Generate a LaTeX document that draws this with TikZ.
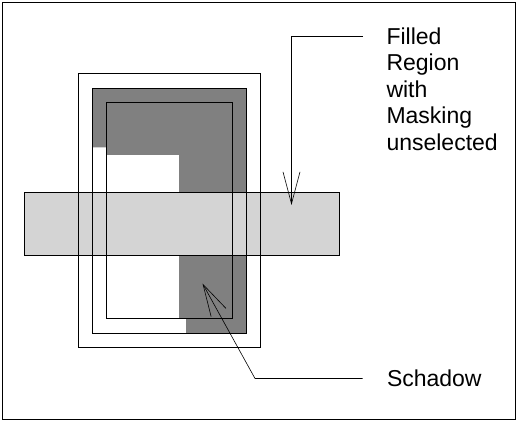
\documentclass[tikz,border=0pt]{standalone}
\usepackage{fontspec}
\setmainfont{Liberation Sans}
\usetikzlibrary{arrows.meta}
\tikzstyle{every node}=[inner sep=0pt, font=\fontsize{23}{26.5}\selectfont, align=left]
\tikzstyle{pointer}=[line width=0.6pt, -{Straight Barb[length=32pt, width=17pt]}]

\begin{document}
\begin{tikzpicture}[x=1pt, y=-1pt, line width=1pt]
\useasboundingbox (0,0) rectangle (520,422);
% Frame
    \draw (2.5,2.5) rectangle (515.5,419.5);
% Shadow
    \fill[black!50] (92.5,88.5) -| (246,333.5) -- (186,333.5) |- (179,319)
        |- (106.5,155) |- (92.5,147.5) -- cycle;
% Filled region band
    \filldraw[fill=black!17] (24.5,192.5) rectangle (339.5,255.5);
% Outlines
    \draw (78.5,73.5) rectangle (260.5,347.5);
    \draw (92.5,88.5) rectangle (246,333.5);
    \draw (106.5,102.5) rectangle (232.5,319);
% Labels
    \node[anchor=north west] (regionlabel) at (386,27) {Filled\\Region\\with\\Masking\\unselected};
    \node[anchor=base west] (shadowlabel) at (386.5,387) {Schadow};
% Leaders
    \coordinate (regionend) at (363,36.5);
    \coordinate (regiontip) at (291.5,205);
    \coordinate (shadowend) at (362.5,378.5);
    \coordinate (shadowbend) at (255,378.5);
    \coordinate (shadowtip) at (202.5,283.5);
    \draw[pointer] (regionend) -| (regiontip);
    \draw[pointer] (shadowend) -- (shadowbend) -- (shadowtip);
\end{tikzpicture}
\end{document}
